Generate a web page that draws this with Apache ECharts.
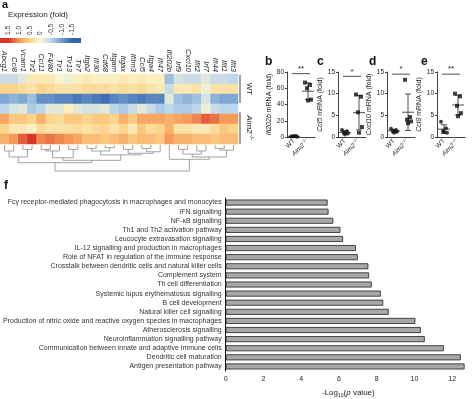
<!DOCTYPE html>
<html>
<head>
<meta charset="utf-8">
<title>Aim2 expression figure</title>
<style>html,body{margin:0;padding:0;background:#fff;}</style>
</head>
<body>
<div id="main" style="width:474px;height:399px;"></div>
<script src="https://cdn.jsdelivr.net/npm/echarts@6/dist/echarts.min.js"></script>
<script>
// ---- data ----
var genes = ['Abcg1', 'Ccl8', 'Vcam1', 'Tlr2', 'Ccl11', 'F4/80', 'Tlr1', 'Tlr13', 'Tlr7', 'Itgb2', 'Ifi30', 'Cd68', 'Itgam',
  'Itgax', 'Ifitm3', 'Ccl5', 'Itga4', 'Ifi47', 'Ifi202b', 'Irf9', 'Cxcl10', 'Ifit2', 'Irf7', 'Ifi44', 'Ifit1', 'Ifit3'];
var samples = ['WT-1', 'WT-2', 'WT-3', 'WT-4', 'KO-1', 'KO-2', 'KO-3'];
var expr = [
  [-0.4, -0.4, -0.2, 0.2, 0.2, 0.2, 0, -0.1, 0.1, 0.2, 0.1, 0.1, 0.1, 0.2, 0.1, 0.2, 0.1, 0.1, -0.7, -0.3, -0.4, -0.4, -0.2, -0.4, -0.4, -0.5],
  [0.5, 0.5, 0.4, 0.3, 0.5, 0.4, 0.3, 0.3, 0.3, 0.4, 0.4, 0.4, 0.3, 0.4, 0.3, 0.4, 0.3, 0.2, -0.4, 0.2, 0.2, 0.3, -0.1, 0.3, 0.3, 0.3],
  [-0.9, -0.8, -0.9, -0.7, -1.1, -1.1, -1.2, -1.2, -1.3, -1.2, -1.3, -1.4, -1.2, -1.1, -1.2, -1.3, -1.2, -1.2, -0.2, -0.7, -0.8, -0.7, -0.3, -0.8, -0.9, -0.9],
  [-0.5, -0.3, -0.2, -0.6, -0.5, -0.2, -0.2, 0.1, -0.2, -0.3, -0.3, -0.2, -0.5, -0.6, -0.4, -0.2, -0.4, -0.6, -0.5, -0.6, -0.6, -0.5, -0.1, -0.4, -0.5, -0.5],
  [0.9, 0.6, 0.6, 0.5, 0.8, 0.5, 0.4, 0.6, 0.6, 0.5, 0.6, 0.6, 0.5, 0.8, 0.6, 0.9, 0.9, 0.9, 0.8, 0.9, 1.0, 1.1, 1.3, 1.2, 1.0, 1.0],
  [0.5, 0.2, 0.2, 0.1, 0.4, 0.3, 0.3, 0.3, 0.4, 0.3, 0.4, 0.5, 0.3, 0.5, 0.2, 0.6, 0.4, 0.5, 0.8, 0.3, 0.3, 0.2, 0.2, 0.4, 0.6, 0.5],
  [0.8, 1.0, 1.3, 1.5, 1.1, 1.2, 1.1, 1.0, 0.9, 0.7, 0.7, 0.6, 0.7, 0.8, 0.6, 0.7, 0.7, 0.6, 1.0, 0.8, 0.8, 0.7, 0.7, 0.6, 0.7, 0.7]
];
var colorTicks = [1.5, 1.0, 0.5, 0, -0.5, -1.0, -1.5];

// column dendrogram: [nodeA, nodeB, height]; ids >= 26 are earlier merges
var merges = [
  [0, 1, 2.3], [2, 3, 1.7], [26, 27, 4.6],
  [4, 5, 1.7], [29, 6, 2.3], [7, 8, 1.7], [30, 31, 4.9],
  [9, 10, 1.3], [11, 12, 1.0], [33, 34, 2.3],
  [13, 14, 1.7], [15, 16, 1.3], [37, 17, 2.6], [36, 38, 3.2], [35, 39, 3.8],
  [32, 40, 5.9], [28, 41, 6.8],
  [19, 20, 1.7], [21, 22, 2.3], [43, 44, 3.5], [23, 24, 1.3], [46, 25, 2.0], [45, 47, 4.6], [18, 48, 5.5],
  [42, 49, 10]
];

var groups = ['WT', 'Aim2-/-'];
var ifi202bWT = [0.5, 1.2, 0.8, 0.3, 1.0];
var ifi202bKO = [67, 64, 60, 46, 45];
var ccl5WT = [1.6, 1.3, 1.0, 0.8, 0.6];
var ccl5KO = [9.8, 9.3, 5.7, 2.3, 1.0];
var cxcl10WT = [1.9, 1.6, 1.4, 1.2, 1.0];
var cxcl10KO = [13.2, 4.6, 4.0, 3.6, 3.2];
var ccl8WT = [3.5, 2.0, 1.4, 1.0, 1.2];
var ccl8KO = [10.0, 9.4, 7.2, 5.5, 4.8];

var pathways = [
  'Fc\u03b3 receptor-mediated phagocytosis in macrophages and monocytes',
  'IFN signalling',
  'NF-\u03baB signalling',
  'Th1 and Th2 activation pathway',
  'Leucocyte extravasation signalling',
  'IL-12 signalling and production in macrophages',
  'Role of NFAT in regulation of the immune response',
  'Crosstalk between dendritic cells and natural killer cells',
  'Complement system',
  'Th cell differentiation',
  'Systemic lupus erythematosus signalling',
  'B cell development',
  'Natural killer cell signalling',
  'Production of nitric oxide and reactive oxygen species in macrophages',
  'Atherosclerosis signalling',
  'Neuroinflammation signalling pathway',
  'Communication between innate and adaptive immune cells',
  'Dendritic cell maturation',
  'Antigen presentation pathway'
];
var logP = [5.4, 5.45, 5.7, 6.08, 6.22, 6.9, 7.0, 7.56, 7.6, 7.74, 8.22, 8.35, 8.64, 10.05, 10.34, 10.55, 11.56, 12.46, 12.66];
var logPTicks = [0, 2, 4, 6, 8, 10, 12];

// ---- chart ----
var FONT = 'Liberation Sans, Arial, sans-serif';
var heatPalette = ['#3563ab', '#6f9ccd', '#bcd6ec', '#fbf6d0', '#fcd48c', '#f59a58', '#d8352a'];

var myChart = echarts.init(document.getElementById('main'));

var heatData = [];
expr.forEach(function (row, r) {
  row.forEach(function (v, c) { heatData.push([c, r, v]); });
});

// dendrogram node x positions
var nodeX = genes.map(function (g, i) { return i; });
var nodeH = genes.map(function () { return 0; });
merges.forEach(function (m) {
  nodeX.push((nodeX[m[0]] + nodeX[m[1]]) / 2);
  nodeH.push(m[2]);
});

// colorbar gradient (value axis runs 1.9 .. -1.9)
var barStops = colorTicks.map(function (v, i) {
  return { offset: (1.9 - v) / 3.8, color: heatPalette[heatPalette.length - 1 - i] };
});
barStops.unshift({ offset: 0, color: heatPalette[heatPalette.length - 1] });
barStops.push({ offset: 1, color: heatPalette[0] });

var grids = [
  { left: 0, top: 74, width: 238, height: 70 },
  { left: 0, top: 38, width: 81, height: 5, show: true, borderWidth: 0,
    backgroundColor: new echarts.graphic.LinearGradient(0, 0, 1, 0, barStops) },
  { left: 0, top: 145, width: 238, height: 26 }
];
var xAxes = [
  { gridIndex: 0, type: 'category', data: genes, position: 'top',
    axisLine: { show: false }, axisTick: { show: false },
    axisLabel: { rotate: 90, fontSize: 7.5, fontStyle: 'italic', color: '#222', margin: 2, interval: 0 } },
  { gridIndex: 1, type: 'value', min: -1.9, max: 1.9, inverse: true, position: 'top',
    axisLine: { show: false }, axisTick: { show: false }, splitLine: { show: false },
    axisLabel: { rotate: 90, fontSize: 6.5, color: '#333', margin: 3, customValues: colorTicks,
      formatter: function (v) { return v === 0 ? '0' : v.toFixed(1); } } },
  { gridIndex: 2, type: 'value', min: -0.5, max: 25.5, show: false }
];
var yAxes = [
  { gridIndex: 0, type: 'category', data: samples, inverse: true, show: false },
  { gridIndex: 1, type: 'value', show: false, min: 0, max: 1 },
  { gridIndex: 2, type: 'value', min: 0, max: 10, inverse: true, show: false }
];
var series = [
  { type: 'heatmap', xAxisIndex: 0, yAxisIndex: 0, data: heatData, itemStyle: { borderWidth: 0 } },
  { type: 'custom', xAxisIndex: 2, yAxisIndex: 2, silent: true,
    data: merges.map(function (m, i) { return [nodeX[26 + i], m[2]]; }),
    renderItem: function (params, api) {
      var m = merges[params.dataIndex];
      var a = api.coord([nodeX[m[0]], nodeH[m[0]]]);
      var a2 = api.coord([nodeX[m[0]], m[2]]);
      var b2 = api.coord([nodeX[m[1]], m[2]]);
      var b = api.coord([nodeX[m[1]], nodeH[m[1]]]);
      return { type: 'polyline', shape: { points: [a, a2, b2, b] },
        style: { stroke: '#8c8c8c', lineWidth: 0.8, fill: null } };
    } }
];

// scatter panels b-e
var panels = [
  { gene: 'Ifi202b', wt: ifi202bWT, ko: ifi202bKO, max: 80, interval: 20, sig: 78, star: '**' },
  { gene: 'Ccl5', wt: ccl5WT, ko: ccl5KO, max: 15, interval: 5, sig: 14, star: '*' },
  { gene: 'Cxcl10', wt: cxcl10WT, ko: cxcl10KO, max: 15, interval: 5, sig: 14.5, star: '*' },
  { gene: 'Ccl8', wt: ccl8WT, ko: ccl8KO, max: 15, interval: 5, sig: 14.5, star: '**' }
];
var panelLeft = [287, 338, 387, 437];
var jitter = [-3, 2, -1, 3, 0];

function meanSd(arr) {
  var m = arr.reduce(function (s, v) { return s + v; }, 0) / arr.length;
  var sd = Math.sqrt(arr.reduce(function (s, v) { return s + (v - m) * (v - m); }, 0) / (arr.length - 1));
  return [m, sd];
}

panels.forEach(function (p, k) {
  var gi = grids.length;
  grids.push({ left: panelLeft[k], top: 72, width: 28, height: 65 });
  xAxes.push({ gridIndex: gi, type: 'category', data: groups,
    axisLine: { lineStyle: { color: '#111', width: 0.8 } },
    axisTick: { show: false },
    axisLabel: { rotate: 45, fontSize: 6.5, color: '#222', margin: 3, interval: 0,
      formatter: function (v) { return v === 'WT' ? 'WT' : '{i|Aim2}{s|\u2212/\u2212}'; },
      rich: { i: { fontStyle: 'italic', fontSize: 6.5 }, s: { fontSize: 4.5, padding: [0, 0, 4, 0] } } } });
  yAxes.push({ gridIndex: gi, type: 'value', min: 0, max: p.max, interval: p.interval,
    name: '{i|' + p.gene + '} mRNA (fold)', nameLocation: 'middle', nameGap: k === 0 ? 13 : 11,
    nameTextStyle: { fontSize: 7, color: '#222', rich: { i: { fontStyle: 'italic', fontSize: 7 } } },
    axisLine: { show: true, lineStyle: { color: '#111', width: 0.8 } },
    axisTick: { show: true, length: 2, lineStyle: { color: '#111', width: 0.8 } },
    splitLine: { show: false },
    axisLabel: { fontSize: 6.5, color: '#222', margin: 3 } });
  var pts = [];
  p.wt.forEach(function (v, i) { pts.push({ value: [0, v], symbol: 'circle', symbolOffset: [jitter[i], 0] }); });
  p.ko.forEach(function (v, i) { pts.push({ value: [1, v], symbol: 'rect', symbolOffset: [jitter[i], 0] }); });
  series.push({ type: 'scatter', xAxisIndex: gi, yAxisIndex: gi, data: pts, symbolSize: 4,
    itemStyle: { color: '#111' }, z: 3 });
  var stats = [meanSd(p.wt), meanSd(p.ko)];
  series.push({ type: 'custom', xAxisIndex: gi, yAxisIndex: gi, silent: true,
    data: [[0, stats[0][0], stats[0][1]], [1, stats[1][0], stats[1][1]]],
    renderItem: function (params, api) {
      var x = api.value(0), m = api.value(1), sd = api.value(2);
      var c = api.coord([x, m]), t = api.coord([x, m + sd]), b = api.coord([x, Math.max(0, m - sd)]);
      var st = { stroke: '#222', lineWidth: 0.8 };
      return { type: 'group', children: [
        { type: 'line', shape: { x1: c[0] - 6, y1: c[1], x2: c[0] + 6, y2: c[1] }, style: st },
        { type: 'line', shape: { x1: c[0], y1: t[1], x2: c[0], y2: b[1] }, style: st },
        { type: 'line', shape: { x1: c[0] - 3, y1: t[1], x2: c[0] + 3, y2: t[1] }, style: st },
        { type: 'line', shape: { x1: c[0] - 3, y1: b[1], x2: c[0] + 3, y2: b[1] }, style: st }
      ] };
    } });
  series.push({ type: 'custom', xAxisIndex: gi, yAxisIndex: gi, silent: true,
    data: [[0, p.sig]],
    renderItem: function (params, api) {
      var l = api.coord([0, api.value(1)]), r = api.coord([1, api.value(1)]);
      return { type: 'group', children: [
        { type: 'line', shape: { x1: l[0] - 2, y1: l[1], x2: r[0] + 2, y2: r[1] }, style: { stroke: '#222', lineWidth: 0.8 } },
        { type: 'text', x: (l[0] + r[0]) / 2, y: l[1] - 1,
          style: { text: p.star, align: 'center', verticalAlign: 'bottom', fontSize: 8, fill: '#222', fontFamily: FONT } }
      ] };
    } });
});

// pathway bar chart (panel f)
var gf = grids.length;
grids.push({ left: 222, top: 198, width: 249, height: 175 });
xAxes.push({ gridIndex: gf, type: 'value', min: 0, max: 13,
  name: '-Log{sub|10}({it|p} value)', nameLocation: 'middle', nameGap: 17,
  nameTextStyle: { fontSize: 8, color: '#222', rich: { sub: { fontSize: 5, padding: [5, 0, 0, 0] }, it: { fontStyle: 'italic', fontSize: 8 } } },
  axisLine: { lineStyle: { color: '#111', width: 1 } },
  axisTick: { length: 3, customValues: logPTicks, lineStyle: { color: '#111' } },
  splitLine: { show: false },
  axisLabel: { fontSize: 7, color: '#222', margin: 5, customValues: logPTicks } });
yAxes.push({ gridIndex: gf, type: 'category', data: pathways, inverse: true,
  axisLine: { lineStyle: { color: '#111', width: 1 } }, axisTick: { show: false },
  axisLabel: { fontSize: 7, color: '#333', margin: 4, interval: 0 } });
series.push({ type: 'bar', xAxisIndex: gf, yAxisIndex: gf, data: logP, barWidth: 6,
  itemStyle: { color: '#a8a8a8', borderColor: '#222', borderWidth: 0.8 } });

var italicSup = { i: { fontStyle: 'italic', fontSize: 8 }, s: { fontSize: 5, padding: [0, 0, 5, 0] } };

myChart.setOption({
  animation: false,
  textStyle: { fontFamily: FONT },
  visualMap: { show: false, seriesIndex: 0, min: -1.5, max: 1.5, inRange: { color: heatPalette } },
  grid: grids,
  xAxis: xAxes,
  yAxis: yAxes,
  series: series,
  graphic: [
    { type: 'text', left: 2, top: -1, style: { text: 'a', font: 'bold 11px ' + FONT, fill: '#111' } },
    { type: 'text', left: 8, top: 11, style: { text: 'Expression (fold)', font: '8px ' + FONT, fill: '#222' } },
    { type: 'line', shape: { x1: 240, y1: 75, x2: 240, y2: 103 }, style: { stroke: '#444', lineWidth: 1 } },
    { type: 'text', x: 249, y: 89, rotation: -Math.PI / 2,
      style: { text: 'WT', font: '8px ' + FONT, fill: '#222', align: 'center', verticalAlign: 'middle' } },
    { type: 'line', shape: { x1: 240, y1: 112, x2: 240, y2: 144 }, style: { stroke: '#444', lineWidth: 1 } },
    { type: 'text', x: 249, y: 128, rotation: -Math.PI / 2,
      style: { text: '{i|Aim2}{s|\u2212/\u2212}', rich: italicSup, fill: '#222', align: 'center', verticalAlign: 'middle', fontFamily: FONT } },
    { type: 'text', left: 265, top: 56, style: { text: 'b', font: 'bold 12px ' + FONT, fill: '#111' } },
    { type: 'text', left: 317, top: 56, style: { text: 'c', font: 'bold 12px ' + FONT, fill: '#111' } },
    { type: 'text', left: 369, top: 56, style: { text: 'd', font: 'bold 12px ' + FONT, fill: '#111' } },
    { type: 'text', left: 421, top: 56, style: { text: 'e', font: 'bold 12px ' + FONT, fill: '#111' } },
    { type: 'text', left: 4, top: 180, style: { text: 'f', font: 'bold 12px ' + FONT, fill: '#111' } }
  ]
});
</script>
</body>
</html>
